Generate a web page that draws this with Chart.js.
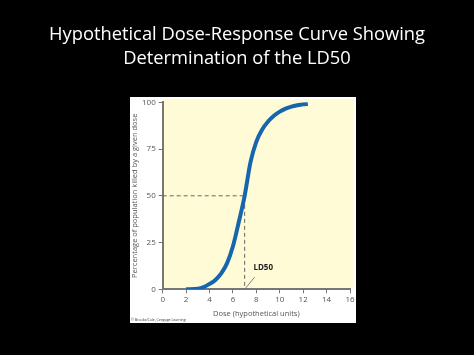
<!DOCTYPE html>
<html>
<head>
<meta charset="utf-8">
<script src="https://cdn.jsdelivr.net/npm/chart.js@4"></script>
<style>
html,body{margin:0;padding:0;background:#000;}
canvas{display:block;}
</style>
</head>
<body>
<canvas id="c" width="474" height="355"></canvas>
<script>
const titleLines = ["Hypothetical Dose-Response Curve Showing", "Determination of the LD50"];
const doses = [2, 3, 3.5, 4, 4.5, 5, 5.5, 6, 6.5, 7, 7.5, 8, 8.5, 9, 9.5, 10, 10.5, 11, 11.5, 12, 12.4];
const percentKilled = [0, 0.3, 1.2, 2.9, 5, 8.5, 14, 23, 36, 50, 68, 79, 85.5, 89.7, 92.8, 95, 96.6, 97.7, 98.4, 98.9, 99.1];
const ld50Dose = 7;
const ld50Percent = 50;
const ld50Label = "LD50";
const xTitle = "Dose (hypothetical units)";
const yTitle = "Percentage of population killed by a given dose";
const credit = "\u00A9 Brooks/Cole, Cengage Learning";

const curve = doses.map((d, i) => ({x: d, y: percentKilled[i]}));
const guide = [{x: 0, y: ld50Percent}, {x: ld50Dose, y: ld50Percent}, {x: ld50Dose, y: 0}];
const leader = [{x: ld50Dose, y: 0}, {x: ld50Dose + 0.85, y: 6.5}];

const decor = {
  id: 'decor',
  beforeDraw(chart) {
    const ctx = chart.ctx;
    const {chartArea: a} = chart;
    ctx.save();
    ctx.fillStyle = '#000';
    ctx.fillRect(0, 0, chart.width, chart.height);
    ctx.fillStyle = '#fff';
    ctx.fillRect(130, 97, 226, 226);
    ctx.fillStyle = '#fefbd6';
    ctx.fillRect(a.left, 99, 354 - a.left, a.bottom - 99);
    ctx.restore();
  },
  afterDraw(chart) {
    const ctx = chart.ctx;
    const xs = chart.scales.x, ys = chart.scales.y;
    ctx.save();
    ctx.fillStyle = '#000';
    ctx.fillRect(356, 90, 118, 240);
    ctx.fillStyle = '#222';
    ctx.font = 'bold 8px "Open Sans", sans-serif';
    ctx.textAlign = 'left';
    ctx.textBaseline = 'middle';
    ctx.fillText(ld50Label, xs.getPixelForValue(ld50Dose + 0.75), ys.getPixelForValue(11.5));
    ctx.fillStyle = '#333';
    ctx.font = '3.5px "Open Sans", sans-serif';
    ctx.textBaseline = 'alphabetic';
    ctx.fillText(credit, 131, 321);
    ctx.fillStyle = '#fff';
    ctx.font = '19px "Open Sans", sans-serif';
    ctx.textAlign = 'center';
    const w1 = ctx.measureText(titleLines[0]).width;
    const sx = 376 / w1;
    const base = [39.5, 63.5];
    titleLines.forEach((t, i) => {
      ctx.save();
      ctx.translate(237, base[i]);
      ctx.scale(sx, 1);
      ctx.fillText(t, 0, 0);
      ctx.restore();
    });
    ctx.restore();
  }
};

new Chart(document.getElementById('c'), {
  type: 'scatter',
  data: {
    datasets: [
      {data: guide, showLine: true, borderColor: '#666', borderWidth: 1, borderDash: [4, 3], pointRadius: 0, tension: 0, order: 2},
      {data: leader, showLine: true, borderColor: '#666', borderWidth: 0.8, pointRadius: 0, tension: 0, order: 3},
      {data: curve, showLine: true, borderColor: '#1666ae', borderWidth: 4, pointRadius: 0, cubicInterpolationMode: 'monotone', borderCapStyle: 'butt', order: 1}
    ]
  },
  options: {
    responsive: false,
    animation: false,
    devicePixelRatio: 1,
    layout: {padding: {left: 130.7, right: 124, top: 102.3, bottom: 32.7}},
    plugins: {legend: {display: false}, tooltip: {enabled: false}, title: {display: false}},
    scales: {
      x: {
        type: 'linear', min: 0, max: 16,
        afterFit(s) { s.height = 33; },
        ticks: {stepSize: 2, color: '#555', font: {family: '"Open Sans", sans-serif', size: 8}, padding: 2, maxRotation: 0},
        grid: {display: true, drawOnChartArea: false, drawTicks: true, tickLength: 4, color: '#777', lineWidth: 1},
        border: {display: true, color: '#777', width: 2},
        title: {display: true, text: xTitle, color: '#555', font: {family: '"Open Sans", sans-serif', size: 7.5}, padding: {top: 2, bottom: 4}}
      },
      y: {
        type: 'linear', min: 0, max: 100,
        afterFit(s) { s.width = 32; },
        ticks: {stepSize: 25, color: '#555', font: {family: '"Open Sans", sans-serif', size: 8}, padding: 3},
        grid: {display: true, drawOnChartArea: false, drawTicks: true, tickLength: 4, color: '#777', lineWidth: 1},
        border: {display: true, color: '#777', width: 2},
        title: {display: true, text: yTitle, color: '#555', font: {family: '"Open Sans", sans-serif', size: 7.5}, padding: 0}
      }
    }
  },
  plugins: [decor]
});
</script>
</body>
</html>
